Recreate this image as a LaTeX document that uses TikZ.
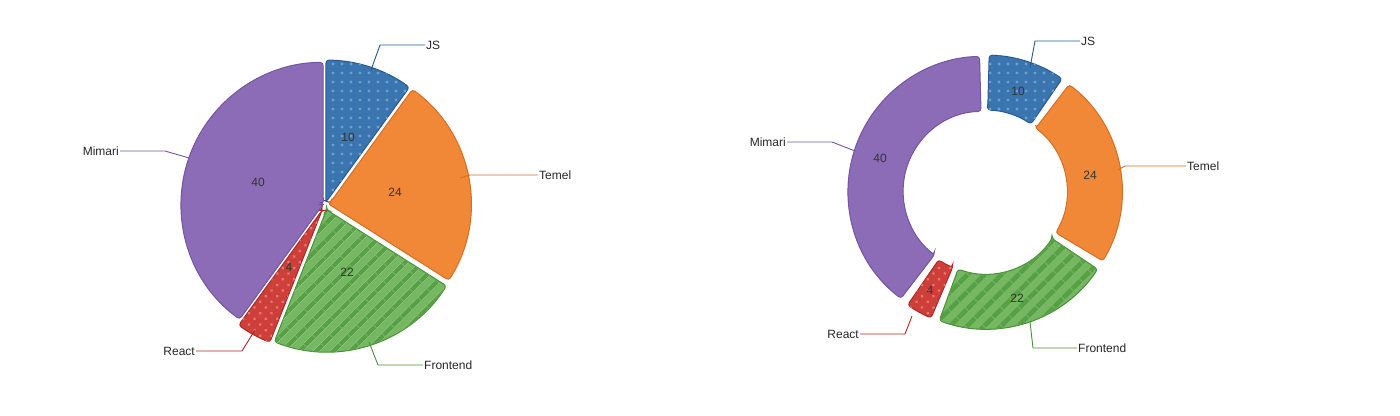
\documentclass[tikz,border=0pt]{standalone}
\usepackage{fontspec}
\setmainfont{Liberation Sans}
\usetikzlibrary{patterns.meta}
\definecolor{jsc}{RGB}{58,117,176}\definecolor{jsd}{RGB}{40,90,145}\definecolor{jsl}{RGB}{110,160,205}
\definecolor{tec}{RGB}{240,136,56}\definecolor{ted}{RGB}{215,110,35}
\definecolor{frc}{RGB}{118,184,98}\definecolor{frd}{RGB}{70,145,55}\definecolor{frs}{RGB}{88,160,70}
\definecolor{rec}{RGB}{206,63,58}\definecolor{red2}{RGB}{175,40,38}\definecolor{rel}{RGB}{225,120,115}
\definecolor{mic}{RGB}{140,108,182}\definecolor{mid}{RGB}{115,85,160}
\newcommand\myslice[8]{%
 \pgfmathsetmacro\midang{(#5+#6)/2}%
 \begin{scope}[shift={(#1,#2)},shift={(\midang:#7)}]
 \path[#8,rounded corners=3pt] (#5:#3) -- (#5:#4) arc[start angle=#5,end angle=#6,radius=#4] -- (#6:#3) arc[start angle=#6,end angle=#5,radius=#3] -- cycle;
 \end{scope}}
\begin{document}
\begin{tikzpicture}[x=1pt,y=-1pt,
 js/.style={fill=jsc,draw=jsd,line width=1pt,postaction={pattern={Dots[radius=1.7pt,distance=9pt]},pattern color=jsl}},
 te/.style={fill=tec,draw=ted,line width=1pt},
 fr/.style={fill=frc,draw=frd,line width=1pt,postaction={pattern={Lines[angle=45,distance=13pt,line width=5pt]},pattern color=frs}},
 re/.style={fill=rec,draw=red2,line width=1pt,postaction={pattern={Dots[radius=1.6pt,distance=8pt,angle=45]},pattern color=rel}},
 mi/.style={fill=mic,draw=mid,line width=1pt},
 lbl/.style={font=\fontsize{12}{14}\selectfont,text=black!85,anchor=west,inner sep=1pt},
 val/.style={font=\fontsize{12}{14}\selectfont,text=black!80},
 ld/.style={line width=0.9pt}]
\useasboundingbox (0,0) rectangle (1400,415);
% pie
\myslice{325}{205}{0.01}{142}{-90}{-54}{3}{js}
\myslice{325}{205}{0.01}{142}{-54}{32.4}{4}{te}
\myslice{325}{205}{0.01}{142}{32.4}{111.6}{5}{fr}
\myslice{325}{205}{0.01}{142}{111.6}{126}{6}{re}
\myslice{325}{205}{0.01}{142}{126}{270}{2}{mi}
\node[val] (v1) at (348,137) {10};
\node[val] (v2) at (395,192) {24};
\node[val] (v3) at (347,272) {22};
\node[val] (v4) at (289,267) {4};
\node[val] (v5) at (258,182) {40};
\node[lbl] (l1) at (425,45) {JS};
\node[lbl] (l2) at (538,175) {Temel};
\node[lbl] (l3) at (423,365) {Frontend};
\node[lbl,anchor=east] (l4) at (196,351) {React};
\node[lbl,anchor=east] (l5) at (120,151) {Mimari};
\coordinate (p1) at (371,70);\coordinate (p2) at (460,178);\coordinate (p3) at (369,342);
\coordinate (p4) at (255,330);\coordinate (p5) at (189,158);
\draw[ld,jsd] (p1) -- (380,45) -- (l1.west);
\draw[ld,ted] (p2) -- (470,175) -- (l2.west);
\draw[ld,frd] (p3) -- (378,365) -- (l3.west);
\draw[ld,red2] (p4) -- (242,351) -- (l4.east);
\draw[ld,mid] (p5) -- (165,151) -- (l5.east);
% donut
\myslice{985}{192}{80}{135}{-88.5}{-55.5}{2}{js}
\myslice{985}{192}{80}{135}{-52.5}{30.9}{2}{te}
\myslice{985}{192}{80}{135}{33.9}{110.1}{2}{fr}
\myslice{985}{192}{80}{135}{113.1}{124.5}{2}{re}
\myslice{985}{192}{80}{135}{127.5}{268.5}{2}{mi}
\node[val] (w1) at (1018,91) {10};
\node[val] (w2) at (1090,175) {24};
\node[val] (w3) at (1017,298) {22};
\node[val] (w4) at (930,290) {4};
\node[val] (w5) at (880,158) {40};
\node[lbl] (k1) at (1080,41) {JS};
\node[lbl] (k2) at (1186,166) {Temel};
\node[lbl] (k3) at (1077,348) {Frontend};
\node[lbl,anchor=east] (k4) at (860,334) {React};
\node[lbl,anchor=east] (k5) at (787,142) {Mimari};
\coordinate (q1) at (1030,68);\coordinate (q2) at (1118,170);\coordinate (q3) at (1030,322);
\coordinate (q4) at (912,316);\coordinate (q5) at (855,151);
\draw[ld,jsd] (q1) -- (1035,41) -- (k1.west);
\draw[ld,ted] (q2) -- (1125,166) -- (k2.west);
\draw[ld,frd] (q3) -- (1033,348) -- (k3.west);
\draw[ld,red2] (q4) -- (905,334) -- (k4.east);
\draw[ld,mid] (q5) -- (832,142) -- (k5.east);
\end{tikzpicture}
\end{document}
